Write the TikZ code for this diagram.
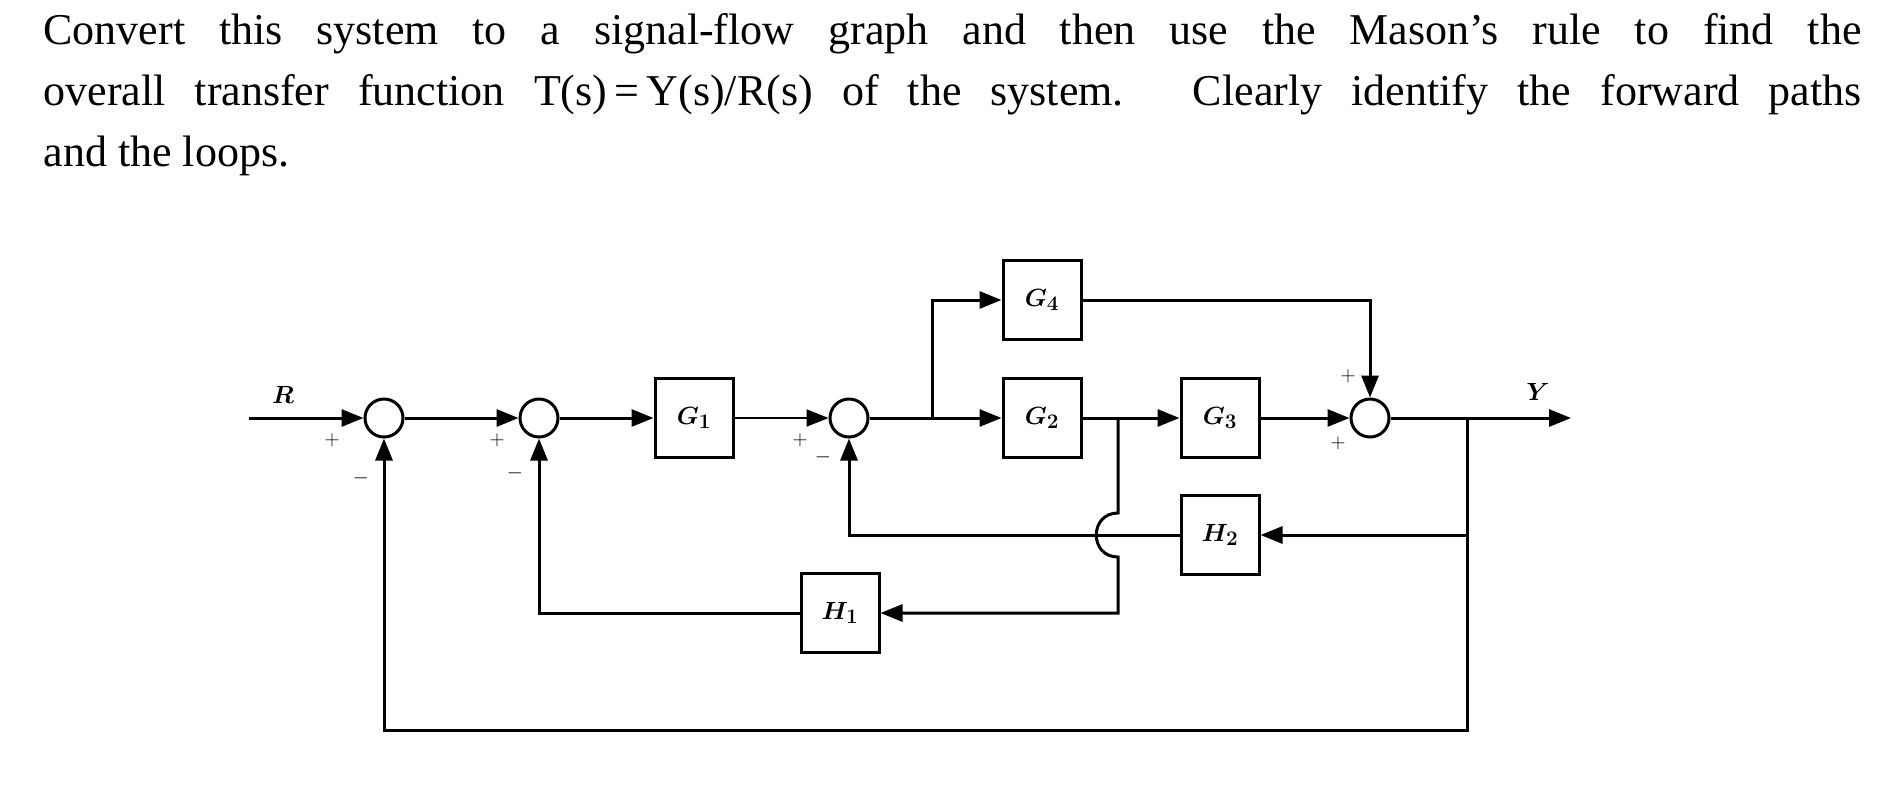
\documentclass[tikz,border=0pt]{standalone}
\usepackage{fontspec}
\setmainfont{Liberation Serif}
\usepackage{amsmath}
\usetikzlibrary{arrows.meta,calc}
\begin{document}
\begin{tikzpicture}[x=1pt,y=-1pt,line width=3pt,
  tip/.style={-{Triangle[length=22pt,width=17pt]}},
  blk/.style={draw,line width=3pt,minimum width=78pt,minimum height=79pt,inner sep=0pt,font=\fontsize{30}{30}\selectfont},
  sum/.style={draw,circle,line width=3pt,minimum size=38pt,inner sep=0pt},
  sg/.style={font=\fontsize{20}{20}\selectfont,inner sep=0pt}]
\useasboundingbox (0,0) rectangle (1889,788);
\node[anchor=north west,inner sep=0pt,text width=1818pt,align=justify,font=\fontsize{44}{61}\selectfont] (q) at (42,12)
 {Convert this system to a signal-flow graph and then use the Mason’s rule to find the\linebreak overall transfer function T(s)\,=\,Y(s)/R(s) of the system. Clearly identify the forward paths\linebreak and the loops.};
% blocks and junctions
\node[sum] (s1) at (384,418) {};
\node[sum] (s2) at (539,418) {};
\node[sum] (s3) at (849,418) {};
\node[sum] (s4) at (1370,418) {};
\node[blk] (g1) at (694,418) {$\boldsymbol{G_{1}}$};
\node[blk] (g4) at (1042,300) {$\boldsymbol{G_{4}}$};
\node[blk] (g2) at (1042,418) {$\boldsymbol{G_{2}}$};
\node[blk] (g3) at (1220,418) {$\boldsymbol{G_{3}}$};
\node[blk] (h2) at (1220,535) {$\boldsymbol{H_{2}}$};
\node[blk] (h1) at (840,613) {$\boldsymbol{H_{1}}$};
\coordinate (rin) at (249,418);
\coordinate (b1) at (932,418);
\coordinate (j1) at (1118,418);
\coordinate (yb) at (1467,418);
\coordinate (yout) at (1571,418);
% labels
\node[font=\fontsize{30}{30}\selectfont] (rl) at (283,395) {$\boldsymbol{R}$};
\node[font=\fontsize{30}{30}\selectfont] (yl) at (1538,392) {$\boldsymbol{Y}$};
\node[sg] (p1) at (332,440) {$+$};
\node[sg] (m1) at (361,478) {$-$};
\node[sg] (p2) at (497,440) {$+$};
\node[sg] (m2) at (515,473) {$-$};
\node[sg] (p3) at (800,440) {$+$};
\node[sg] (m3) at (823,457) {$-$};
\node[sg] (p4) at (1348,376) {$+$};
\node[sg] (p5) at (1338,443) {$+$};
% forward path
\draw[tip] (rin) -- (s1.west);
\draw[tip] (s1.east) -- (s2.west);
\draw[tip] (s2.east) -- (g1.west);
\draw[tip,line width=2pt] (g1.east) -- (s3.west);
\draw (s3.east) -- (b1);
\draw[tip] (b1) -- (g2.west);
\draw[tip] (b1) |- (g4.west);
\draw (g2.east) -- (j1);
\draw[tip] (j1) -- (g3.west);
\draw[tip] (g3.east) -- (s4.west);
\draw[tip] (g4.east) -| (s4.north);
\draw (s4.east) -- (yb);
\draw[tip] (yb) -- (yout);
% feedback
\draw[tip] (yb) |- (h2.east);
\draw[tip] (h2.west) -| (s3.south);
\draw[tip] (j1) -- (1118,513) .. controls (1089,513) and (1089,557) .. (1118,557) -- (1118,613) -- (h1.east);
\draw[tip] (h1.west) -| (s2.south);
\draw[tip] (yb) -- (1467,730) -| (s1.south);
\end{tikzpicture}
\end{document}
